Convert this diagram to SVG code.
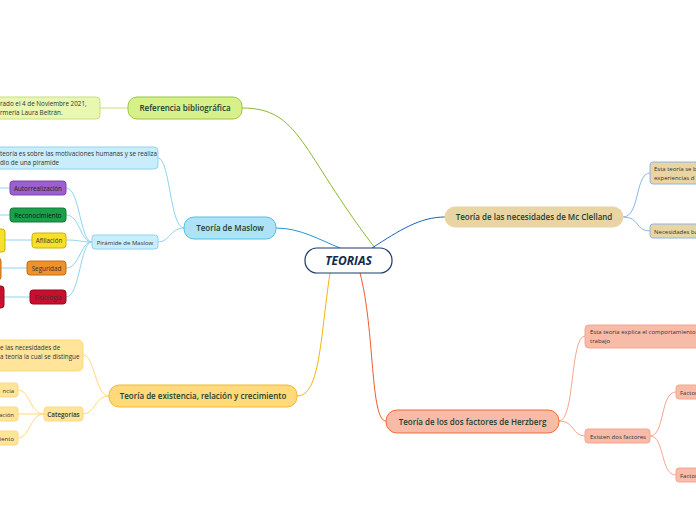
<svg xmlns="http://www.w3.org/2000/svg" width="696" height="520" viewBox="0 0 696 520">
<style>
text{font-family:"Open Sans","Noto Sans",sans-serif;fill:#333;}
.s{font-size:6.3px}.b{font-size:8px;fill:#1d4030;font-weight:600}
.c path{fill:none;stroke-width:1}
</style>
<rect width="696" height="520" fill="#fff"/>
<g class="c">
<path d="M375,248 C300,150 300,108 242,108" stroke="#8ab92d" stroke-width="1.6"/>
<path d="M340,248 C320,240 300,228 276,228" stroke="#1e95e0" stroke-width="1.6"/>
<path d="M330,273 C320,340 320,396 297,396" stroke="#f5b400" stroke-width="1.6"/>
<path d="M372,248 C400,230 420,217 445,217" stroke="#1565c0" stroke-width="1.6"/>
<path d="M360,273 C375,330 370,421 386,421" stroke="#f05a28" stroke-width="1.6"/>
<path d="M128,108 L100,108" stroke="#c5e07a"/>
<path d="M184,228 C170,228 170,158 158,158" stroke="#8fd3f0"/>
<path d="M184,228 C170,228 170,242 158,242" stroke="#8fd3f0"/>
<g stroke="#8fd3f0">
<path d="M92,242 C80,242 80,188 66,188"/><path d="M92,242 C80,242 80,215 66,215"/>
<path d="M92,242 C80,242 80,240 66,240"/><path d="M92,242 C80,242 80,268 66,268"/>
<path d="M92,242 C80,242 80,297 66,297"/>
<path d="M10,188 L0,188"/><path d="M10,215 L0,215"/><path d="M32,240 L5,240"/>
<path d="M27,268 L1,268"/><path d="M30,297 L4,297"/>
</g>
<g stroke="#ffd97a">
<path d="M109,396 C95,396 95,355 83,355"/><path d="M109,396 C95,396 95,414 83,414"/>
<path d="M44,414 C30,414 30,390 18,390"/><path d="M44,414 L18,414"/><path d="M44,414 C30,414 30,438 18,438"/>
</g>
<g stroke="#8fb5e8">
<path d="M623,217 C640,217 635,173 650,173"/><path d="M623,217 C640,217 635,231 650,231"/>
</g>
<g stroke="#f8a58c">
<path d="M559,421 C575,421 570,336 585,336"/><path d="M559,421 C575,421 572,436 585,436"/>
<path d="M650,436 C665,436 660,392 676,392"/><path d="M650,436 C665,436 660,475 676,475"/>
</g>
</g>
<g id="center"><rect x="305" y="248" width="87" height="25" rx="12" fill="#fff" stroke="#1b3a6b" stroke-width="1.2"/><text x="348.5" y="265" text-anchor="middle" style="font-size:12px;font-weight:700;font-style:italic;fill:#13294b">TEORIAS</text></g>
<g id="ref"><rect x="128" y="97" width="114" height="22" rx="9" fill="#d7f08a" stroke="#9ac63a"/><text x="185" y="111" text-anchor="middle" class="b">Referencia bibliográfica</text></g>
<g id="refnote"><rect x="-10" y="97" width="110" height="22" rx="4" fill="#e9f7b0" stroke="#c5e07a"/><text x="0" y="106" class="s">rado el 4 de Noviembre 2021,</text><text x="0" y="115" class="s">rmería Laura Beltrán.</text></g>
<g id="maslow"><rect x="184" y="217" width="92" height="22" rx="10" fill="#aee3f7" stroke="#4fc0e8"/><text x="230" y="231" text-anchor="middle" class="b">Teoría de Maslow</text></g>
<g id="maslownote"><rect x="-10" y="147" width="168" height="22" rx="4" fill="#c9edfb" stroke="#8fd3f0"/><text x="0" y="156" class="s">teoría es sobre las motivaciones humanas y se realiza</text><text x="0" y="165" class="s">dio de una piramide</text></g>
<g id="piramide"><rect x="92" y="235" width="66" height="14" rx="3" fill="#c9edfb" stroke="#8fd3f0"/><text x="125" y="244.5" text-anchor="middle" style="font-size:6px">Pirámide de Maslow</text></g>
<g id="auto"><rect x="10" y="181" width="56" height="14" rx="3" fill="#9b5fd0" stroke="#7a44a8"/><text x="38" y="190.5" text-anchor="middle" class="s" style="fill:#222">Autorrealización</text></g>
<g id="reco"><rect x="10" y="208" width="56" height="14" rx="3" fill="#1a9f4a" stroke="#137a38"/><text x="38" y="217.5" text-anchor="middle" class="s" style="fill:#111">Reconocimiento</text></g>
<g id="afil"><rect x="32" y="233" width="34" height="15" rx="3" fill="#f7e02a" stroke="#c9b400"/><text x="49" y="243" text-anchor="middle" class="s">Afiliación</text><rect x="-10" y="229" width="15" height="23" rx="3" fill="#f7e02a" stroke="#c9b400"/></g>
<g id="segu"><rect x="27" y="261" width="39" height="14" rx="3" fill="#f0922a" stroke="#c06f14"/><text x="46.5" y="270.5" text-anchor="middle" class="s">Seguridad</text><rect x="-10" y="258" width="11" height="22" rx="3" fill="#f0922a" stroke="#c06f14"/></g>
<g id="fisio"><rect x="30" y="290" width="36" height="14" rx="3" fill="#c8102e" stroke="#900a20"/><text x="48" y="299.5" text-anchor="middle" class="s">Fisiología</text><rect x="-10" y="286" width="14" height="22" rx="3" fill="#c8102e" stroke="#900a20"/></g>
<g id="erc"><rect x="109" y="385" width="188" height="22" rx="10" fill="#ffd97a" stroke="#f5b82e"/><text x="203" y="399" text-anchor="middle" class="b">Teoría de existencia, relación y crecimiento</text></g>
<g id="ercnote"><rect x="-10" y="340" width="93" height="31" rx="5" fill="#ffe49a" stroke="#ffd97a"/><text x="0" y="350" class="s">e las necesidades de</text><text x="0" y="358.5" class="s">a teoría la cual se distingue</text></g>
<g id="cat"><rect x="44" y="407" width="39" height="14" rx="3" fill="#ffe49a" stroke="#ffd97a"/><text x="63.5" y="416.5" text-anchor="middle" class="s" style="font-weight:600">Categorías</text></g>
<g id="c1"><rect x="-10" y="383" width="28" height="14" rx="3" fill="#ffe49a" stroke="#ffd97a"/><text x="14" y="392.5" text-anchor="end" style="font-size:6px">ncia</text></g>
<g id="c2"><rect x="-10" y="407" width="28" height="14" rx="3" fill="#ffe49a" stroke="#ffd97a"/><text x="14" y="416.5" text-anchor="end" style="font-size:6px">ación</text></g>
<g id="c3"><rect x="-10" y="431" width="28" height="14" rx="3" fill="#ffe49a" stroke="#ffd97a"/><text x="14" y="440.5" text-anchor="end" style="font-size:6px">iento</text></g>
<g id="mcc"><rect x="445" y="207" width="178" height="20" rx="10" fill="#e8d5a3" stroke="#e8d5a3"/><text x="534" y="220" text-anchor="middle" class="b">Teoría de las necesidades de Mc Clelland</text></g>
<g id="mcc1"><rect x="650" y="162" width="56" height="22" rx="3" fill="#e8d5a3" stroke="#8fb5e8"/><text x="654" y="171" style="font-size:6px">Esta teoría se b</text><text x="654" y="180" style="font-size:6px">experiencias d</text></g>
<g id="mcc2"><rect x="650" y="224" width="56" height="14" rx="3" fill="#e8d5a3" stroke="#8fb5e8"/><text x="654" y="233.5" style="font-size:6px">Necesidades ba</text></g>
<g id="herz"><rect x="386" y="410" width="173" height="23" rx="11" fill="#f8bba8" stroke="#f06a3a"/><text x="472.5" y="424.5" text-anchor="middle" class="b">Teoría de los dos factores de Herzberg</text></g>
<g id="h1"><rect x="585" y="325" width="121" height="23" rx="4" fill="#f8bba8" stroke="#f8a58c"/><text x="590" y="334" style="font-size:6px">Esta teoría explica el comportamiento</text><text x="590" y="343" style="font-size:6px">trabajo</text></g>
<g id="h2"><rect x="585" y="429" width="65" height="14" rx="3" fill="#f8bba8" stroke="#f8a58c"/><text x="590" y="438.5" style="font-size:6px">Existen dos factores</text></g>
<g id="h3"><rect x="676" y="385" width="30" height="14" rx="3" fill="#f8bba8" stroke="#f8a58c"/><text x="680" y="394.5" style="font-size:6px">Factor</text></g>
<g id="h4"><rect x="676" y="468" width="30" height="14" rx="3" fill="#f8bba8" stroke="#f8a58c"/><text x="680" y="477.5" style="font-size:6px">Factor</text></g>
</svg>
